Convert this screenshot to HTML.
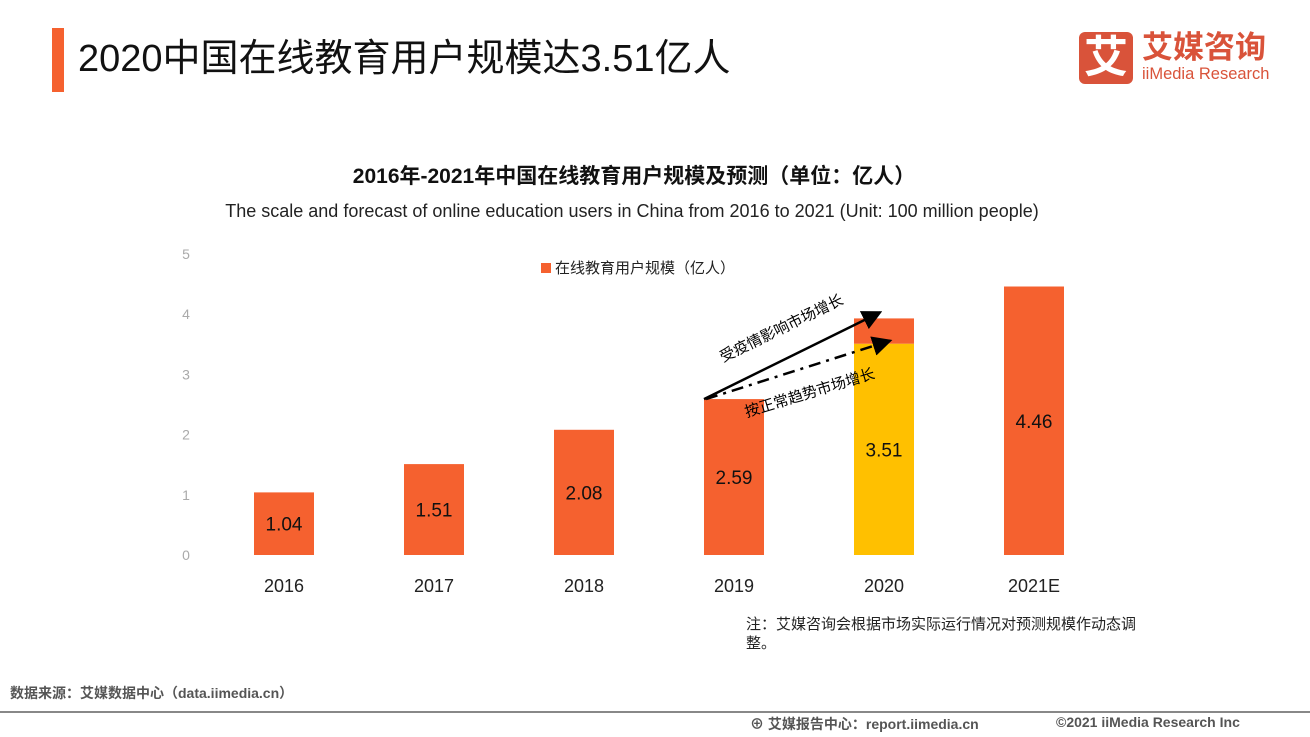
<!DOCTYPE html>
<html><head><meta charset="utf-8"><style>
body{margin:0;width:1310px;height:737px;background:#fff;position:relative;overflow:hidden;font-family:"Liberation Sans","Noto Sans CJK SC",sans-serif}
.abs{position:absolute}
</style></head><body>
<div class="abs" style="left:52px;top:28px;width:12px;height:64px;background:#f5612f"></div>
<div class="abs" style="left:78px;top:33px;font-size:38px;color:#111;line-height:52px">2020中国在线教育用户规模达3.51亿人</div>
<div class="abs" style="left:1079px;top:32px;width:54px;height:52px;background:#d9533a;border-radius:6px;color:#fff;font-size:44px;line-height:52px;text-align:center;font-weight:bold">艾</div>
<div class="abs" style="left:1142px;top:30px;font-size:31px;color:#d9533a;font-weight:bold;line-height:36px">艾媒咨询</div>
<div class="abs" style="left:1142px;top:65px;font-size:16.5px;color:#d9533a;line-height:18px">iiMedia Research</div>
<div class="abs" style="left:0;width:1268px;top:160px;text-align:center;font-size:21px;font-weight:bold;color:#111">2016年-2021年中国在线教育用户规模及预测（单位：亿人）</div>
<div class="abs" style="left:0;width:1264px;top:201px;text-align:center;font-size:18px;color:#222">The scale and forecast of online education users in China from 2016 to 2021 (Unit: 100 million people)</div>
<svg class="abs" style="left:0;top:0" width="1310" height="737">
<g id="g"></g>
<defs><marker id="ah" markerWidth="8" markerHeight="8" refX="7" refY="4" orient="auto"><path d="M0,0L8,4L0,8z" fill="#000"/></marker></defs>
</svg>
<div class="abs" style="left:541px;top:257px;font-size:15px;color:#222"><span style="display:inline-block;width:10px;height:10px;background:#f5612f;margin-right:4px"></span>在线教育用户规模（亿人）</div>
<div class="abs" style="left:716px;top:348px;font-size:15px;transform:rotate(-26deg);transform-origin:left top;white-space:nowrap">受疫情影响市场增长</div>
<div class="abs" style="left:742px;top:402px;font-size:15px;transform:rotate(-17deg);transform-origin:left top;white-space:nowrap">按正常趋势市场增长</div>
<div class="abs" style="left:746px;top:615px;width:405px;font-size:15px;line-height:19px;color:#222">注：艾媒咨询会根据市场实际运行情况对预测规模作动态调整。</div>
<div class="abs" style="left:10px;top:683px;font-size:14px;color:#555;font-weight:bold">数据来源：艾媒数据中心（data.iimedia.cn）</div>
<div class="abs" style="left:0;top:711px;width:1310px;height:2px;background:#888"></div>
<div class="abs" style="left:750px;top:714px;font-size:14px;color:#555;font-weight:bold">⊕ 艾媒报告中心：report.iimedia.cn</div>
<div class="abs" style="left:1056px;top:714px;font-size:14px;color:#555;font-weight:bold">©2021  iiMedia Research  Inc</div>
<script>
const categories=["2016","2017","2018","2019","2020","2021E"];
const values=[1.04,1.51,2.08,2.59,3.51,4.46];
const extra2020=0.42;
const yTicks=[0,1,2,3,4,5];
const NS="http://www.w3.org/2000/svg";
const g=document.getElementById('g');
const y=v=>555-v*60.2;
const x=i=>254+i*150;
function el(t,a){const e=document.createElementNS(NS,t);for(const k in a)e.setAttribute(k,a[k]);g.appendChild(e);return e;}
yTicks.forEach(t=>{const e=el('text',{x:186,y:y(t)+5,'text-anchor':'middle','font-size':14,fill:'#aaa'});e.textContent=t;

});
categories.forEach((c,i)=>{
 const v=values[i];const col=c==="2020"?"#ffc000":"#f5612f";
 const r=el('rect',{x:x(i),y:y(v),width:60,height:y(0)-y(v),fill:col});
 
 
 if(c==="2020"){const r2=el('rect',{x:x(i),y:y(v+extra2020),width:60,height:y(v)-y(v+extra2020),fill:'#f5612f'});
 
 }
 const t=el('text',{x:x(i)+30,y:(y(v)+y(0))/2+7,'text-anchor':'middle','font-size':19,fill:'#111'});t.textContent=v.toFixed(2);
 
 
 const l=el('text',{x:x(i)+30,y:592,'text-anchor':'middle','font-size':18,fill:'#222'});l.textContent=c;
 
 
});
const a1=el('line',{x1:x(3),y1:y(values[3]),x2:x(4)+26,y2:y(values[4]+extra2020)-6,stroke:'#000','stroke-width':2.5,'marker-end':'url(#ah)'});


const a2=el('line',{x1:x(3)+2,y1:y(values[3]),x2:x(4)+36,y2:y(values[4])-3,stroke:'#000','stroke-width':2.5,'stroke-dasharray':'12,6,3,6','marker-end':'url(#ah)'});


</script>
</body></html>
